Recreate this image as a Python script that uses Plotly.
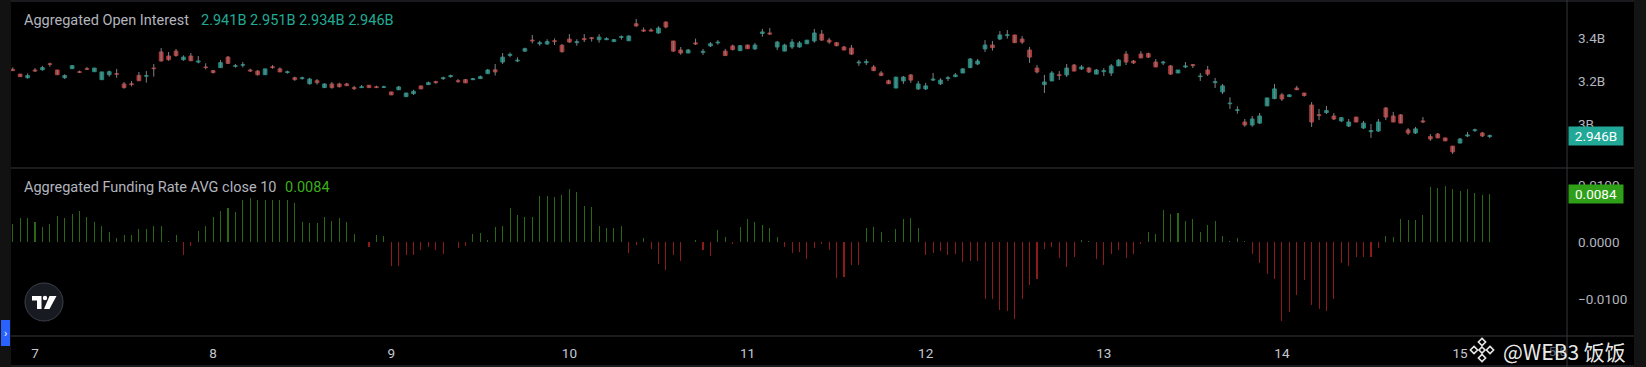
import pandas as pd
import plotly.graph_objects as go
from plotly.subplots import make_subplots

# ---------------- data (hourly, first bar = day 6 21:00) ----------------
oi_open = [
    3.254, 3.232, 3.215, 3.251, 3.252, 3.280, 3.251, 3.215, 3.257, 3.243,
    3.257, 3.243, 3.206, 3.229, 3.234, 3.186, 3.187, 3.226, 3.222, 3.260,
    3.335, 3.316, 3.339, 3.299, 3.316, 3.288, 3.265, 3.248, 3.262, 3.311,
    3.268, 3.273, 3.251, 3.246, 3.229, 3.266, 3.256, 3.239, 3.215, 3.211,
    3.187, 3.201, 3.169, 3.186, 3.186, 3.186, 3.169, 3.169, 3.180, 3.173,
    3.170, 3.149, 3.159, 3.127, 3.141, 3.177, 3.183, 3.197, 3.211, 3.220,
    3.201, 3.206, 3.206, 3.211, 3.234, 3.252, 3.288, 3.319, 3.293, 3.339,
    3.390, 3.373, 3.372, 3.387, 3.366, 3.395, 3.378, 3.397, 3.401, 3.392,
    3.392, 3.383, 3.403, 3.387, 3.466, 3.437, 3.437, 3.423, 3.474, 3.386,
    3.344, 3.330, 3.377, 3.333, 3.363, 3.377, 3.339, 3.363, 3.341, 3.367,
    3.349, 3.421, 3.423, 3.358, 3.339, 3.358, 3.358, 3.373, 3.386, 3.418,
    3.390, 3.378, 3.358, 3.353, 3.284, 3.285, 3.265, 3.237, 3.201, 3.167,
    3.200, 3.228, 3.163, 3.163, 3.204, 3.187, 3.211, 3.220, 3.237, 3.262,
    3.279, 3.349, 3.367, 3.395, 3.412, 3.414, 3.395, 3.344, 3.260, 3.183,
    3.200, 3.229, 3.228, 3.274, 3.256, 3.260, 3.232, 3.243, 3.237, 3.270,
    3.325, 3.293, 3.325, 3.327, 3.288, 3.284, 3.270, 3.237, 3.265, 3.276,
    3.220, 3.251, 3.192, 3.149, 3.094, 3.063, 3.009, 2.995, 3.004, 3.084,
    3.118, 3.135, 3.127, 3.167, 3.144, 3.088, 3.043, 3.053, 3.037, 3.014,
    2.990, 3.032, 2.981, 2.964, 2.967, 3.074, 3.037, 3.042, 2.972, 2.958,
    3.014, 2.941, 2.953, 2.935, 2.897, 2.911, 2.944, 2.969, 2.958, 2.941,
]
oi_high = [
    3.263, 3.232, 3.235, 3.260, 3.270, 3.285, 3.251, 3.231, 3.274, 3.248,
    3.265, 3.260, 3.242, 3.248, 3.256, 3.195, 3.200, 3.242, 3.246, 3.279,
    3.353, 3.335, 3.349, 3.319, 3.330, 3.316, 3.282, 3.251, 3.297, 3.316,
    3.279, 3.288, 3.257, 3.251, 3.256, 3.274, 3.263, 3.248, 3.220, 3.220,
    3.214, 3.209, 3.189, 3.195, 3.192, 3.191, 3.177, 3.181, 3.180, 3.178,
    3.178, 3.149, 3.177, 3.144, 3.159, 3.177, 3.197, 3.201, 3.220, 3.229,
    3.209, 3.209, 3.214, 3.225, 3.256, 3.279, 3.330, 3.332, 3.310, 3.355,
    3.414, 3.387, 3.394, 3.398, 3.372, 3.418, 3.394, 3.418, 3.404, 3.418,
    3.403, 3.395, 3.412, 3.412, 3.488, 3.449, 3.445, 3.454, 3.477, 3.386,
    3.358, 3.349, 3.397, 3.349, 3.381, 3.390, 3.349, 3.369, 3.367, 3.369,
    3.377, 3.442, 3.446, 3.386, 3.373, 3.395, 3.386, 3.390, 3.442, 3.437,
    3.400, 3.381, 3.363, 3.367, 3.297, 3.301, 3.274, 3.246, 3.206, 3.218,
    3.223, 3.232, 3.200, 3.191, 3.237, 3.212, 3.223, 3.237, 3.260, 3.307,
    3.302, 3.390, 3.386, 3.432, 3.437, 3.414, 3.409, 3.358, 3.274, 3.228,
    3.246, 3.246, 3.279, 3.279, 3.274, 3.265, 3.256, 3.260, 3.279, 3.302,
    3.339, 3.297, 3.339, 3.332, 3.302, 3.294, 3.274, 3.251, 3.288, 3.279,
    3.237, 3.270, 3.214, 3.186, 3.124, 3.082, 3.023, 3.037, 3.051, 3.121,
    3.186, 3.144, 3.139, 3.177, 3.144, 3.102, 3.070, 3.084, 3.051, 3.032,
    3.023, 3.032, 3.014, 3.000, 3.023, 3.079, 3.056, 3.046, 2.981, 2.986,
    3.032, 2.953, 2.958, 2.935, 2.897, 2.935, 2.963, 2.978, 2.963, 2.951,
]
oi_low = [
    3.248, 3.220, 3.211, 3.242, 3.248, 3.266, 3.229, 3.209, 3.257, 3.237,
    3.251, 3.243, 3.206, 3.220, 3.215, 3.164, 3.175, 3.201, 3.192, 3.220,
    3.290, 3.294, 3.313, 3.294, 3.294, 3.282, 3.254, 3.235, 3.262, 3.279,
    3.262, 3.263, 3.242, 3.225, 3.229, 3.257, 3.242, 3.234, 3.201, 3.206,
    3.183, 3.183, 3.167, 3.164, 3.170, 3.177, 3.158, 3.167, 3.169, 3.167,
    3.167, 3.135, 3.158, 3.127, 3.135, 3.163, 3.181, 3.187, 3.204, 3.215,
    3.191, 3.191, 3.204, 3.209, 3.234, 3.225, 3.279, 3.310, 3.288, 3.335,
    3.375, 3.364, 3.369, 3.367, 3.332, 3.378, 3.364, 3.381, 3.383, 3.378,
    3.390, 3.383, 3.392, 3.387, 3.452, 3.428, 3.431, 3.420, 3.445, 3.336,
    3.322, 3.330, 3.367, 3.321, 3.358, 3.369, 3.318, 3.342, 3.341, 3.350,
    3.344, 3.406, 3.415, 3.344, 3.339, 3.349, 3.355, 3.373, 3.378, 3.387,
    3.373, 3.361, 3.344, 3.321, 3.270, 3.274, 3.246, 3.223, 3.187, 3.167,
    3.186, 3.191, 3.158, 3.158, 3.200, 3.181, 3.200, 3.218, 3.237, 3.260,
    3.274, 3.335, 3.341, 3.390, 3.397, 3.377, 3.372, 3.284, 3.235, 3.144,
    3.200, 3.204, 3.218, 3.246, 3.251, 3.237, 3.232, 3.223, 3.223, 3.270,
    3.274, 3.279, 3.307, 3.307, 3.265, 3.274, 3.228, 3.237, 3.260, 3.260,
    3.200, 3.223, 3.167, 3.139, 3.070, 3.048, 2.987, 2.987, 3.000, 3.084,
    3.115, 3.107, 3.125, 3.158, 3.127, 2.986, 3.018, 3.046, 3.018, 3.009,
    2.986, 3.009, 2.977, 2.935, 2.963, 3.018, 3.009, 3.004, 2.949, 2.953,
    3.004, 2.921, 2.935, 2.921, 2.860, 2.911, 2.939, 2.963, 2.939, 2.934,
]
oi_close = [
    3.248, 3.220, 3.225, 3.246, 3.262, 3.277, 3.229, 3.225, 3.271, 3.240,
    3.254, 3.260, 3.242, 3.243, 3.231, 3.169, 3.183, 3.201, 3.225, 3.257,
    3.293, 3.299, 3.318, 3.311, 3.294, 3.293, 3.262, 3.239, 3.285, 3.282,
    3.271, 3.276, 3.246, 3.229, 3.256, 3.262, 3.242, 3.243, 3.206, 3.215,
    3.209, 3.192, 3.186, 3.169, 3.173, 3.178, 3.164, 3.173, 3.169, 3.169,
    3.173, 3.135, 3.172, 3.144, 3.152, 3.163, 3.192, 3.192, 3.215, 3.225,
    3.197, 3.191, 3.211, 3.220, 3.251, 3.242, 3.311, 3.324, 3.297, 3.350,
    3.386, 3.378, 3.383, 3.383, 3.336, 3.381, 3.383, 3.392, 3.397, 3.404,
    3.397, 3.392, 3.406, 3.409, 3.456, 3.432, 3.432, 3.446, 3.451, 3.339,
    3.330, 3.344, 3.372, 3.338, 3.373, 3.381, 3.318, 3.346, 3.364, 3.350,
    3.367, 3.428, 3.418, 3.381, 3.367, 3.381, 3.377, 3.390, 3.423, 3.390,
    3.381, 3.364, 3.344, 3.325, 3.288, 3.290, 3.248, 3.225, 3.187, 3.218,
    3.218, 3.204, 3.186, 3.177, 3.209, 3.204, 3.215, 3.228, 3.256, 3.302,
    3.293, 3.367, 3.355, 3.414, 3.415, 3.378, 3.381, 3.311, 3.242, 3.195,
    3.237, 3.225, 3.260, 3.246, 3.265, 3.242, 3.251, 3.248, 3.270, 3.297,
    3.288, 3.284, 3.307, 3.311, 3.265, 3.288, 3.232, 3.251, 3.270, 3.271,
    3.223, 3.232, 3.197, 3.177, 3.097, 3.066, 2.995, 3.023, 3.037, 3.121,
    3.163, 3.116, 3.135, 3.159, 3.132, 3.009, 3.039, 3.062, 3.023, 3.029,
    3.009, 3.009, 3.004, 2.969, 3.009, 3.032, 3.009, 3.004, 2.958, 2.977,
    3.009, 2.930, 2.935, 2.921, 2.870, 2.930, 2.949, 2.973, 2.944, 2.946,
]
funding = [
    0.0032, 0.0043, 0.0043, 0.0035, 0.0027, 0.0032, 0.0046, 0.0043, 0.0049, 0.0055,
    0.0044, 0.0035, 0.0028, 0.0018, 0.0007, 0.0013, 0.0012, 0.0023, 0.0024, 0.0028,
    0.0028, 0.0002, 0.0012, -0.0022, -0.0006, 0.0020, 0.0028, 0.0044, 0.0055, 0.0060,
    0.0053, 0.0073, 0.0077, 0.0073, 0.0073, 0.0073, 0.0073, 0.0073, 0.0068, 0.0035,
    0.0034, 0.0034, 0.0044, 0.0037, 0.0042, 0.0035, 0.0015, 0.0001, -0.0008, 0.0013,
    0.0011, -0.0041, -0.0042, -0.0022, -0.0022, -0.0013, -0.0008, -0.0013, -0.0020, 0.0001,
    -0.0010, -0.0006, 0.0015, 0.0016, 0.0004, 0.0027, 0.0028, 0.0060, 0.0048, 0.0044,
    0.0044, 0.0081, 0.0081, 0.0079, 0.0083, 0.0093, 0.0088, 0.0063, 0.0062, 0.0028,
    0.0025, 0.0025, 0.0028, -0.0019, -0.0005, 0.0008, -0.0012, -0.0038, -0.0048, -0.0022,
    -0.0033, 0.0001, 0.0004, -0.0013, -0.0024, 0.0022, 0.0009, -0.0003, 0.0027, 0.0041,
    0.0035, 0.0030, 0.0025, 0.0009, -0.0008, -0.0019, -0.0017, -0.0029, -0.0010, -0.0003,
    -0.0013, -0.0062, -0.0060, -0.0040, -0.0040, 0.0025, 0.0027, 0.0018, 0.0002, 0.0023,
    0.0041, 0.0042, 0.0025, -0.0022, -0.0019, -0.0015, -0.0022, -0.0020, -0.0034, -0.0033,
    -0.0033, -0.0099, -0.0099, -0.0118, -0.0120, -0.0134, -0.0099, -0.0074, -0.0064, -0.0012,
    -0.0008, -0.0027, -0.0043, -0.0026, 0.0004, 0.0002, -0.0029, -0.0040, -0.0020, -0.0013,
    -0.0027, -0.0020, -0.0003, 0.0018, 0.0015, 0.0056, 0.0049, 0.0051, 0.0037, 0.0041,
    0.0018, 0.0030, 0.0037, 0.0011, 0.0002, 0.0008, 0.0002, -0.0020, -0.0036, -0.0055,
    -0.0064, -0.0138, -0.0122, -0.0092, -0.0066, -0.0109, -0.0116, -0.0120, -0.0099, -0.0036,
    -0.0041, -0.0026, -0.0026, -0.0026, -0.0010, 0.0011, 0.0009, 0.0041, 0.0039, 0.0039,
    0.0048, 0.0097, 0.0095, 0.0098, 0.0093, 0.0090, 0.0093, 0.0086, 0.0083, 0.0084,
]
day_labels = ["7", "8", "9", "10", "11", "12", "13", "14", "15"]
oi_legend = ["2.941B", "2.951B", "2.934B", "2.946B"]
oi_ticks = [3.0, 3.2, 3.4]
oi_tick_text = ["3B", "3.2B", "3.4B"]
fr_ticks = [-0.01, 0.0, 0.01]
last_oi = 2.946
last_fr = 0.0084

times = pd.date_range("2024-11-06 21:00", periods=len(oi_close), freq="h")
day_ticks = pd.date_range("2024-11-07", periods=len(day_labels), freq="D")
day0 = day_ticks[0]

# ---------------- styling ----------------
UP = "#1d8a7e"
DOWN = "#b53c3b"
WICK = "#7f8184"
FR_UP = "#2a6814"
FR_DOWN = "#8c1a1a"
TXT = "#b2b5be"
LINE = "#33363d"
FONT = "Roboto"
HOUR = 3600000

Wpx, Hpx = 1646, 367
L, R, T, B = 11, 1567, 1, 336
PW, PH = R - L, B - T


def px(xp):
    return (xp - L) / PW


def py(yp):
    return (B - yp) / PH


fig = make_subplots(rows=2, cols=1, shared_xaxes=True, vertical_spacing=0)

# wicks
wx, wy = [], []
for t, lo, hi in zip(times, oi_low, oi_high):
    wx += [t, t, None]
    wy += [lo, hi, None]
fig.add_trace(go.Scatter(x=wx, y=wy, mode="lines", line=dict(color=WICK, width=1),
                         hoverinfo="skip", showlegend=False), row=1, col=1)

# bodies
body_cols = [UP if c >= o else DOWN for o, c in zip(oi_open, oi_close)]
fig.add_trace(go.Bar(
    x=times,
    y=[abs(c - o) for o, c in zip(oi_open, oi_close)],
    base=[min(o, c) for o, c in zip(oi_open, oi_close)],
    width=0.5 * HOUR,
    marker=dict(color=body_cols, line=dict(color=body_cols, width=1)),
    showlegend=False, hoverinfo="skip"), row=1, col=1)

# funding histogram
fig.add_trace(go.Bar(
    x=times, y=funding, width=0.14 * HOUR,
    marker=dict(color=[FR_UP if v >= 0 else FR_DOWN for v in funding], line=dict(width=0)),
    showlegend=False, hoverinfo="skip"), row=2, col=1)

split = py(168)
x_range = [day0 - pd.Timedelta(hours=3.234), day0 + pd.Timedelta(hours=206.41)]

fig.update_layout(
    width=Wpx, height=Hpx,
    margin=dict(l=L, r=Wpx - R, t=T, b=Hpx - B),
    paper_bgcolor="#000000", plot_bgcolor="#000000",
    barmode="overlay", bargap=0,
    font=dict(family=FONT, color=TXT, size=13),
    showlegend=False, hovermode=False, dragmode=False,
)
fig.update_xaxes(range=x_range, showgrid=False, zeroline=False, showline=False,
                 ticks="", type="date")
fig.update_xaxes(showticklabels=False, row=1, col=1)
fig.update_xaxes(tickvals=day_ticks, ticktext=day_labels, tickfont=dict(size=13.5, color="#c5c8d0"),
                 ticklabelstandoff=7, row=2, col=1)
fig.update_yaxes(domain=[split, 1], range=[2.795, 3.572], side="right", showgrid=False,
                 zeroline=False, showline=False, ticks="", tickvals=oi_ticks, ticktext=oi_tick_text,
                 tickfont=dict(size=13.5, color=TXT), ticklabelstandoff=10, row=1, col=1)
fig.update_yaxes(domain=[0, split], range=[-0.016337, 0.012965], side="right", showgrid=False,
                 zeroline=False, showline=False, ticks="", tickvals=fr_ticks, tickformat=".4f",
                 tickfont=dict(size=13.5, color=TXT), ticklabelstandoff=10, row=2, col=1)

shapes = []


def rect(x0, y0, x1, y1, color, line=None):
    shapes.append(dict(type="rect", xref="paper", yref="paper", x0=px(x0), x1=px(x1),
                       y0=py(y1), y1=py(y0), fillcolor=color,
                       line=dict(width=0) if line is None else line, layer="above"))


def hline(yp, x0, x1):
    shapes.append(dict(type="line", xref="paper", yref="paper", x0=px(x0), x1=px(x1),
                       y0=py(yp), y1=py(yp), line=dict(color=LINE, width=1), layer="above"))


rect(0, 0, L, Hpx, "#121212")
rect(1634, 0, Wpx, Hpx, "#141414")
for yy in (1, 168, 336, 366):
    hline(yy, L, 1634)
shapes.append(dict(type="line", xref="paper", yref="paper", x0=px(1567), x1=px(1567),
                   y0=py(Hpx), y1=py(0), line=dict(color=LINE, width=1), layer="above"))
# blue side tab
rect(1, 320, 10, 346, "#2962ff")

# TradingView logo
cx, cy = 44, 302
shapes.append(dict(type="circle", xref="paper", yref="paper", x0=px(cx - 19), x1=px(cx + 19),
                   y0=py(cy + 19), y1=py(cy - 19), fillcolor="#171a21",
                   line=dict(color="#3c4049", width=1), layer="above"))


def path(points, color):
    d = "M " + " L ".join(f"{px(a):.6f},{py(b):.6f}" for a, b in points) + " Z"
    shapes.append(dict(type="path", xref="paper", yref="paper", path=d, fillcolor=color,
                       line=dict(width=0), layer="above"))


path([(32, 296), (41.5, 296), (41.5, 309), (37, 309), (37, 300.5), (32, 300.5)], "#ffffff")
shapes.append(dict(type="circle", xref="paper", yref="paper", x0=px(42.8), x1=px(47.2),
                   y0=py(300.2), y1=py(295.8), fillcolor="#ffffff", line=dict(width=0), layer="above"))
path([(49.5, 296), (56.5, 296), (49.5, 309), (44, 309)], "#ffffff")

# Binance-like watermark logo
bx, by = 1482, 350


def diamond(x, y, r, color, width=1.6):
    d = (f"M {px(x):.6f},{py(y - r):.6f} L {px(x + r):.6f},{py(y):.6f} "
         f"L {px(x):.6f},{py(y + r):.6f} L {px(x - r):.6f},{py(y):.6f} Z")
    shapes.append(dict(type="path", xref="paper", yref="paper", path=d,
                       line=dict(color=color, width=width), layer="above"))


for dx, dy in [(0, -8), (-8, 0), (8, 0), (0, 8)]:
    diamond(bx + dx, by + dy, 3.6, "rgba(255,255,255,0.9)")
diamond(bx, by, 3.0, "rgba(255,255,255,0.9)")

fig.update_layout(shapes=shapes)

ann = []


def text(xp, yp, s, color=TXT, size=14.5, xanchor="left", family=FONT, **kw):
    ann.append(dict(x=px(xp), y=py(yp), xref="paper", yref="paper", text=s, showarrow=False,
                    xanchor=xanchor, yanchor="middle", font=dict(color=color, size=size, family=family),
                    **kw))


text(22, 20, "Aggregated Open Interest")
text(199, 20, " ".join(oi_legend), color="#22ab94")
text(22, 187, "Aggregated Funding Rate AVG close 10")
text(283, 187, f"{last_fr:.4f}", color="#3cae1c")
text(1554, 351, "15:0", color="#5d606b", xanchor="center", size=13.5)
text(1501, 351, "@WEB3 饭饭", color="rgba(255,255,255,0.93)", size=21,
     family="Noto Sans CJK SC")
text(5.5, 333, "›", color="#ffffff", size=11, xanchor="center")

# price badges
ann.append(dict(x=1, y=last_oi, xref="paper", yref="y", text=f"{last_oi:.3f}B", showarrow=False,
                xanchor="left", yanchor="middle", bgcolor="#22a897", width=52, height=16,
                borderpad=1, xshift=1, font=dict(color="#ffffff", size=13.5, family=FONT)))
ann.append(dict(x=1, y=last_fr, xref="paper", yref="y2", text=f"{last_fr:.4f}", showarrow=False,
                xanchor="left", yanchor="middle", bgcolor="#2f9f18", width=52, height=16,
                borderpad=1, xshift=1, font=dict(color="#ffffff", size=13.5, family=FONT)))
fig.update_layout(annotations=ann)

fig.write_html("out.html", config={"displayModeBar": False, "staticPlot": True},
               post_script="document.body.style.margin='0';document.body.style.overflow='hidden';")
